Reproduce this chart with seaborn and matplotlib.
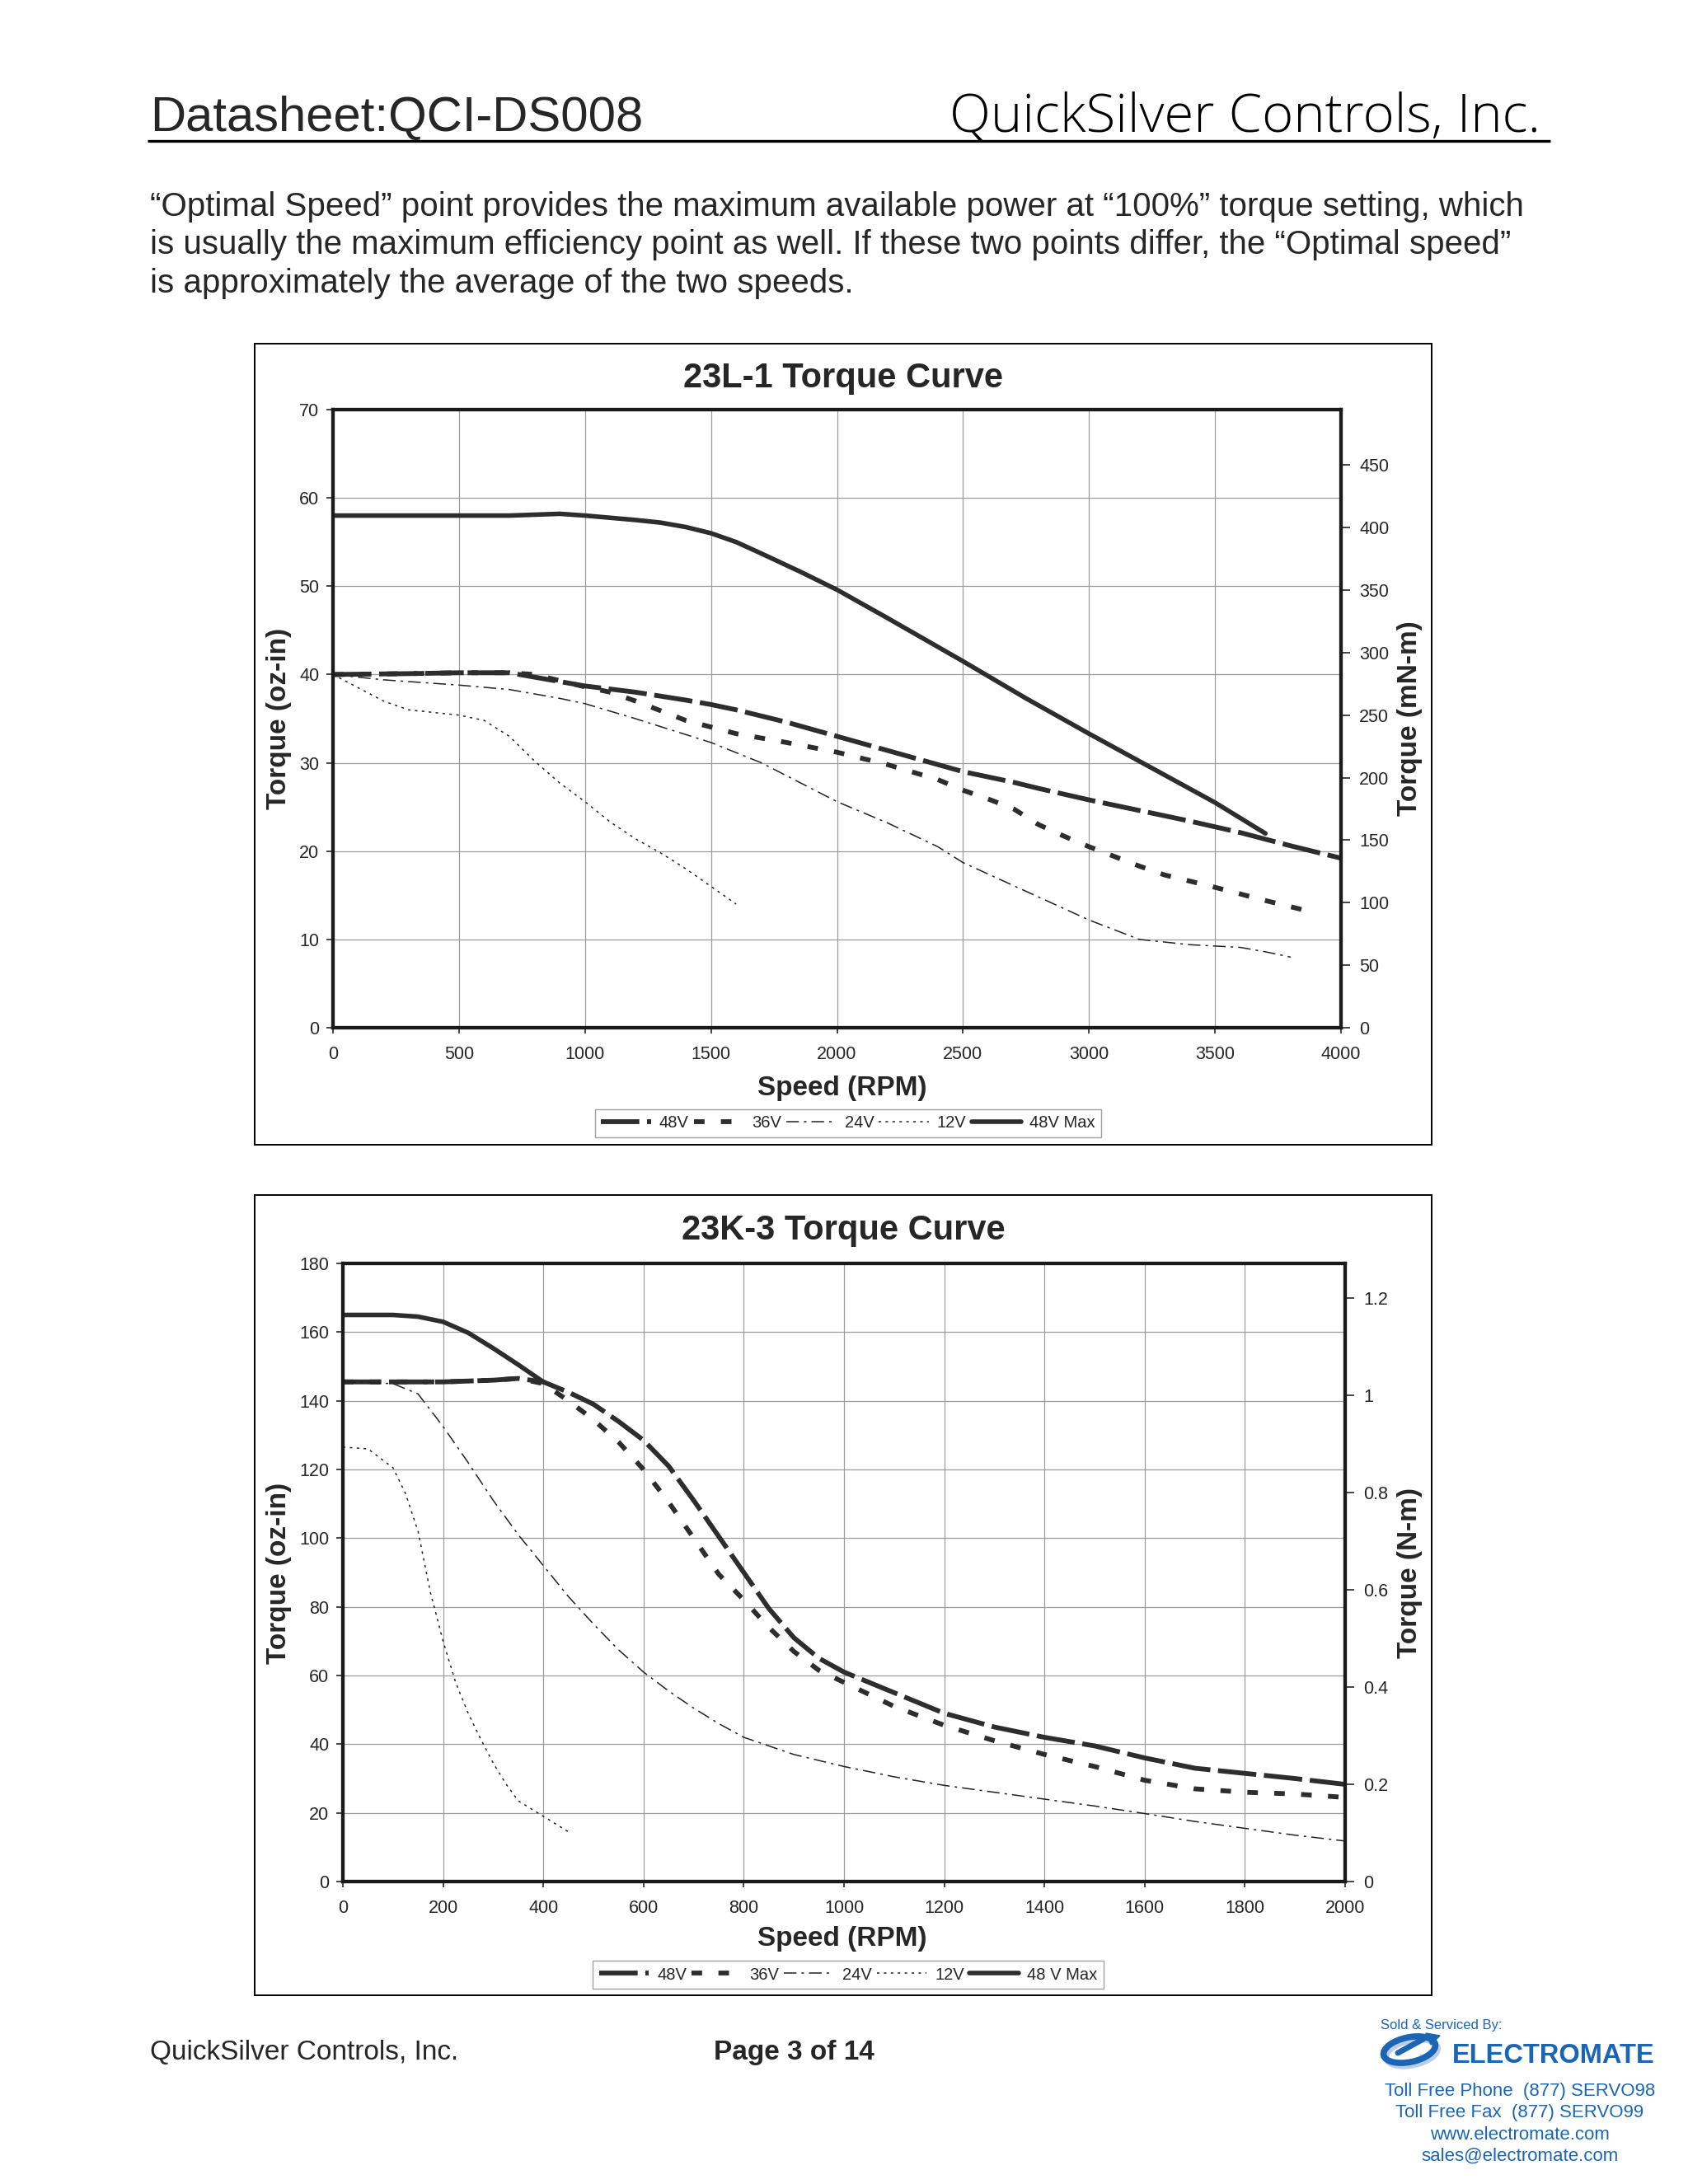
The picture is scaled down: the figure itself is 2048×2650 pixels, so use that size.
import matplotlib
matplotlib.use("Agg")
import pandas as pd
import matplotlib.pyplot as plt
from matplotlib.patches import Rectangle, Ellipse, Polygon
import seaborn as sns


# =======================================================
# Data (torque in oz-in vs speed in RPM)
# =======================================================

# 23L-1 Torque Curve
l1_max_rpm = [0, 300, 700, 900, 1000, 1200, 1300, 1400, 1500, 1600, 1700, 1850, 2000, 2200, 2500, 2750, 3000, 3250, 3500, 3700]
l1_max_tq = [58, 58, 58, 58.2, 58, 57.5, 57.2, 56.7, 56, 55, 53.7, 51.7, 49.6, 46.4, 41.5, 37.3, 33.3, 29.4, 25.5, 22]

l1_48_rpm = [0, 300, 500, 700, 800, 900, 1000, 1200, 1400, 1500, 1600, 1800, 2000, 2200, 2400, 2500, 2700, 2800, 3000, 3200, 3400, 3600, 3800, 4000]
l1_48_tq = [40, 40.1, 40.2, 40.2, 39.7, 39.2, 38.7, 38, 37.1, 36.6, 36, 34.6, 33, 31.4, 29.8, 29, 27.8, 27.1, 25.8, 24.6, 23.4, 22.1, 20.6, 19.2]

l1_36_rpm = [0, 300, 500, 700, 800, 900, 1000, 1100, 1200, 1400, 1600, 1800, 2000, 2200, 2400, 2500, 2600, 2700, 2800, 2900, 3000, 3100, 3200, 3300, 3500, 3700, 3900]
l1_36_tq = [40, 40.1, 40.2, 40.2, 40, 39.3, 38.6, 38, 37, 34.8, 33.3, 32.3, 31.2, 29.8, 28.1, 26.9, 25.9, 24.8, 23, 21.7, 20.5, 19.4, 18.3, 17.3, 15.9, 14.4, 13]

l1_24_rpm = [0, 200, 500, 700, 900, 1000, 1200, 1500, 1700, 2000, 2200, 2400, 2500, 2800, 3000, 3200, 3400, 3600, 3700, 3800]
l1_24_tq = [40, 39.4, 38.8, 38.3, 37.3, 36.7, 35, 32.3, 30, 25.6, 23.2, 20.5, 18.7, 14.8, 12.2, 10, 9.4, 9.1, 8.6, 8]

l1_12_rpm = [0, 100, 200, 300, 400, 500, 600, 700, 800, 900, 1000, 1100, 1200, 1300, 1400, 1500, 1600]
l1_12_tq = [40, 38.5, 37, 36, 35.7, 35.4, 34.8, 33, 30.2, 27.7, 25.6, 23.3, 21.4, 19.8, 18, 16, 14]

# 23K-3 Torque Curve
k3_max_rpm = [0, 50, 100, 150, 200, 250, 300, 350, 400]
k3_max_tq = [165, 165, 165, 164.5, 163, 159.8, 155.3, 150.5, 145.5]

k3_48_rpm = [0, 100, 200, 300, 350, 400, 450, 500, 550, 600, 650, 700, 750, 800, 850, 900, 950, 1000, 1100, 1200, 1300, 1400, 1500, 1600, 1700, 1800, 1900, 2000]
k3_48_tq = [145.5, 145.5, 145.5, 146, 146.5, 145.5, 142.5, 139, 134, 128.5, 121, 111, 100.5, 90, 79.5, 71, 65, 61, 55, 49, 45, 42, 39.5, 36, 33, 31.5, 30, 28.3]

k3_36_rpm = [0, 100, 200, 300, 350, 400, 450, 500, 550, 600, 650, 700, 750, 800, 850, 900, 950, 1000, 1100, 1200, 1300, 1400, 1500, 1600, 1700, 1800, 1900, 2000]
k3_36_tq = [145.5, 145.5, 145.5, 146, 146.5, 145, 140, 134.5, 128, 120, 110.5, 100, 89.5, 82, 74, 67, 61.5, 58, 51, 45.5, 41, 37, 33.5, 29.5, 27, 26, 25.5, 24.5]

k3_24_rpm = [0, 100, 150, 200, 250, 300, 350, 400, 450, 500, 550, 600, 650, 700, 750, 800, 900, 1000, 1100, 1200, 1300, 1400, 1500, 1600, 1700, 1800, 1900, 2000]
k3_24_tq = [145.5, 145, 142, 132.5, 122, 111, 101, 92, 83, 75, 67.5, 61, 55.5, 50.5, 46, 42, 37, 33.5, 30.5, 28, 26, 24, 22, 19.8, 17.5, 15.5, 13.5, 11.8]

k3_12_rpm = [0, 50, 100, 125, 150, 175, 200, 225, 250, 275, 300, 325, 350, 400, 450]
k3_12_tq = [126.5, 126, 120.5, 113, 102, 84, 70, 58, 49, 41.5, 34.5, 28.5, 23.5, 19, 14.5]

OZIN_TO_NM = 0.0070616

paragraph = [
    "\u201cOptimal Speed\u201d point provides the maximum available power at \u201c100%\u201d torque setting, which",
    "is usually the maximum efficiency point as well. If these two points differ, the \u201cOptimal speed\u201d",
    "is approximately the average of the two speeds.",
]
contact_lines = [
    "Toll Free Phone  (877) SERVO98",
    "Toll Free Fax  (877) SERVO99",
    "www.electromate.com",
    "sales@electromate.com",
]


# =======================================================
# Page setup
# =======================================================

sns.set_style("ticks")
plt.rcParams['font.family'] = ['Liberation Sans', 'DejaVu Sans']

W, H = 2048, 2650
fig = plt.figure(figsize=(W / 100, H / 100), dpi=100)


def fx(x):
    return x / W


def fy(y):
    return 1 - y / H


# a page-sized axes in pixel coordinates for the text and frames
page = fig.add_axes([0, 0, 1, 1])
page.set_xlim(0, W)
page.set_ylim(H, 0)
page.axis('off')

ink = '#2d2d2d'
styles = {
    '48V': dict(color=ink, linewidth=4.2, linestyle=(0, (8, 1.6))),
    '36V': dict(color=ink, linewidth=4.2, linestyle=(0, (2.2, 3.4))),
    '24V': dict(color='#222222', linewidth=1.1, linestyle=(0, (10, 4, 2, 4))),
    '12V': dict(color='#222222', linewidth=1.1, linestyle=(0, (2, 3.5))),
    'max': dict(color=ink, linewidth=4.0, linestyle='-'),
}


def torque_panel(rect_px, series, xmax, xstep, ymax, ystep, rticks, rscale):
    left, top, right, bottom = rect_px
    ax = fig.add_axes([fx(left), fy(bottom), fx(right - left), (bottom - top) / H])
    for label, rpm, tq, key in series:
        df = pd.DataFrame({'rpm': rpm, 'torque': tq})
        sns.lineplot(data=df, x='rpm', y='torque', ax=ax, legend=False, sort=False,
                     label=label, **styles[key])
    ax.set_xlim(0, xmax)
    ax.set_ylim(0, ymax)
    ax.set_xticks(range(0, xmax + 1, xstep))
    ax.set_yticks(range(0, ymax + 1, ystep))
    ax.set_xlabel('')
    ax.set_ylabel('')
    ax.grid(True, color='#9c9c9c', linewidth=0.9)
    ax.set_axisbelow(True)
    ax.tick_params(axis='y', direction='out', length=6, width=1.2, pad=6, labelsize=15.5)
    ax.tick_params(axis='x', direction='out', length=5, width=1.2, pad=11, labelsize=15.5)
    for s in ax.spines.values():
        s.set_linewidth(3)
        s.set_color('#1a1a1a')

    # secondary metric torque axis
    ax2 = ax.twinx()
    ax2.set_ylim(0, ymax * OZIN_TO_NM * rscale)
    ax2.set_yticks(rticks)
    ax2.set_yticklabels(['{:g}'.format(t) for t in rticks])
    ax2.tick_params(axis='y', direction='out', length=8, width=1.2, pad=8, labelsize=15.5)
    for s in ax2.spines.values():
        s.set_linewidth(3)
        s.set_color('#1a1a1a')
    return ax


def panel_text(box, title, title_y, xlabel_y, ylabel_y, rlabel):
    x0, y0, x1, y1 = box
    page.add_patch(Rectangle((x0, y0), x1 - x0, y1 - y0, fill=False, lw=1.4, edgecolor='black'))
    page.text((x0 + x1) / 2, title_y, title, ha='center', va='center', fontsize=30, fontweight='bold')
    page.text(1022, xlabel_y, 'Speed (RPM)', ha='center', va='center', fontsize=24, fontweight='bold')
    page.text(338, ylabel_y, 'Torque (oz-in)', ha='center', va='center', rotation=90,
              fontsize=24, fontweight='bold')
    page.text(1711, ylabel_y, rlabel, ha='center', va='center', rotation=90,
              fontsize=24, fontweight='bold')


def panel_legend(ax, center_y, labels):
    handles, _ = ax.get_legend_handles_labels()
    leg = fig.legend(handles, labels, loc='center', bbox_to_anchor=(fx(1029), fy(center_y)),
                     ncol=5, fontsize=14.5, frameon=True, fancybox=False, edgecolor='#8a8a8a',
                     handlelength=3.0, handletextpad=0.5, columnspacing=0.3,
                     borderpad=0.35, borderaxespad=0)
    leg.get_frame().set_linewidth(1.0)


# =======================================================
# Header
# =======================================================

page.text(182, 159, 'Datasheet:QCI-DS008', fontsize=43, va='baseline')
page.text(1869, 160, 'QuickSilver Controls, Inc.', fontsize=47, va='baseline', ha='right',
          family=['Open Sans', 'DejaVu Sans'], fontweight=300, color='black')
page.plot([179, 1881], [171, 171], color='black', lw=2.4, solid_capstyle='butt')
for i, line in enumerate(paragraph):
    page.text(182, 262 + i * 46.5, line, fontsize=29, va='baseline')


# =======================================================
# Chart 1: 23L-1
# =======================================================

ax1 = torque_panel((404, 497, 1627, 1247),
                   [('48V', l1_48_rpm, l1_48_tq, '48V'),
                    ('36V', l1_36_rpm, l1_36_tq, '36V'),
                    ('24V', l1_24_rpm, l1_24_tq, '24V'),
                    ('12V', l1_12_rpm, l1_12_tq, '12V'),
                    ('48V Max', l1_max_rpm, l1_max_tq, 'max')],
                   4000, 500, 70, 10, list(range(0, 451, 50)), 1000)
panel_text((309, 417, 1737, 1389), '23L-1 Torque Curve', 459, 1320, 872, 'Torque (mN-m)')
panel_legend(ax1, 1363, ['48V', '36V', '24V', '12V', '48V Max'])


# =======================================================
# Chart 2: 23K-3
# =======================================================

ax2 = torque_panel((416, 1533, 1632, 2283),
                   [('48V', k3_48_rpm, k3_48_tq, '48V'),
                    ('36V', k3_36_rpm, k3_36_tq, '36V'),
                    ('24V', k3_24_rpm, k3_24_tq, '24V'),
                    ('12V', k3_12_rpm, k3_12_tq, '12V'),
                    ('48 V Max', k3_max_rpm, k3_max_tq, 'max')],
                   2000, 200, 180, 20, [0, 0.2, 0.4, 0.6, 0.8, 1, 1.2], 1)
panel_text((309, 1450, 1737, 2421), '23K-3 Torque Curve', 1493, 2353, 1909, 'Torque (N-m)')
panel_legend(ax2, 2396, ['48V', '36V', '24V', '12V', '48 V Max'])


# =======================================================
# Footer
# =======================================================

page.text(182, 2499, 'QuickSilver Controls, Inc.', fontsize=24, va='baseline')
page.text(963, 2499, 'Page 3 of 14', fontsize=24, va='baseline', ha='center', fontweight='bold')

blue = '#1a66b5'
page.text(1675, 2462, 'Sold & Serviced By:', fontsize=12, va='baseline', color=blue)
page.add_patch(Ellipse((1713, 2491), 64, 30, angle=-12, fill=False, lw=5, edgecolor='#bccde8'))
page.add_patch(Ellipse((1710, 2487), 64, 30, angle=-12, fill=False, lw=5.5, edgecolor=blue))
page.plot([1696, 1727], [2491, 2474], color=blue, lw=5, solid_capstyle='round')
page.add_patch(Polygon([[1730, 2467], [1747, 2470], [1736, 2481]], closed=True, color=blue))
page.text(1762, 2503, 'ELECTROMATE', fontsize=23.5, va='baseline', color=blue, fontweight='bold')
for i, line in enumerate(contact_lines):
    page.text(1844, 2543 + i * 26.3, line, fontsize=16, va='baseline', ha='center', color=blue)

fig.savefig('out.png', dpi=100)
